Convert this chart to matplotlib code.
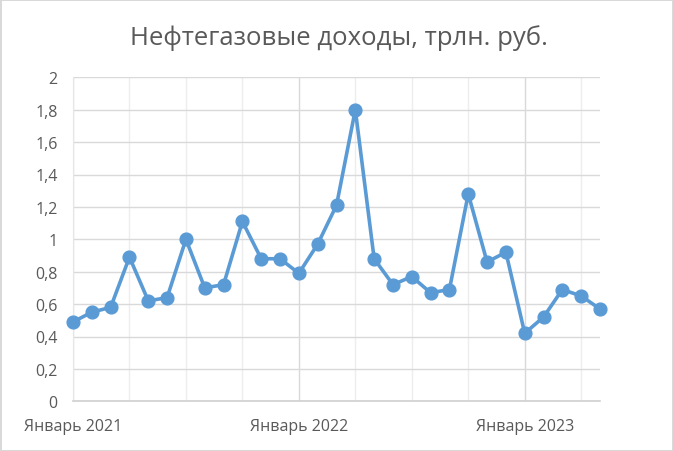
import numpy as np
import matplotlib.pyplot as plt
from matplotlib.ticker import MultipleLocator, FuncFormatter
import pandas as pd

# monthly oil & gas revenue, trillion rubles (Jan 2021 .. May 2023)
months = pd.date_range('2021-01-01', periods=29, freq='MS')
revenue = [0.49, 0.55, 0.58, 0.89, 0.62, 0.64, 1.00, 0.70, 0.72, 1.11, 0.88, 0.88,
           0.79, 0.97, 1.21, 1.80, 0.88, 0.72, 0.77, 0.67, 0.69, 1.28, 0.86, 0.92,
           0.42, 0.52, 0.69, 0.65, 0.57]
year_labels = ['Январь 2021', 'Январь 2022', 'Январь 2023']
title = 'Нефтегазовые доходы, трлн. руб.'

plt.rcParams['font.family'] = ['Open Sans', 'DejaVu Sans']
txt = '#595959'

fig = plt.figure(figsize=(6.73, 4.52), dpi=100)
fig.patch.set_edgecolor('#d9d9d9')
fig.patch.set_linewidth(2)
ax = fig.add_axes([73/673, 1 - 402.3/452, 527/673, 324/452])

x = np.arange(len(months))
ax.plot(x, revenue, color='#5b9bd5', lw=2.6, marker='o', ms=9.2,
        solid_capstyle='round', zorder=3, clip_on=False)

ax.set_xlim(0, len(months) - 1)
ax.set_ylim(0, 2)
ax.yaxis.set_major_locator(MultipleLocator(0.2))
ax.yaxis.set_major_formatter(FuncFormatter(lambda v, p: f'{v:.1f}'.rstrip('0').rstrip('.').replace('.', ',') if v else '0'))

jan_idx = [i for i, m in enumerate(months) if m.month == 1]
ax.set_xticks(jan_idx)
ax.set_xticklabels(year_labels)
ax.set_xticks([i for i in x if i % 3 == 0 and i not in jan_idx], minor=True)

ax.grid(axis='y', color='#d9d9d9', lw=1)
ax.grid(axis='x', which='major', color='#d9d9d9', lw=1)
ax.grid(axis='x', which='minor', color='#ededed', lw=1)
ax.set_axisbelow(True)

for s in ['top', 'right']:
    ax.spines[s].set_visible(False)
ax.spines['left'].set_color('#e6e6e6')
ax.spines['bottom'].set_color('#d0d0d0')
ax.spines['bottom'].set_linewidth(1.2)

ax.tick_params(axis='both', which='both', length=0, colors=txt, labelsize=11.5)
ax.tick_params(axis='y', pad=11)
ax.tick_params(axis='x', pad=12)

fig.text(0.503, 0.915, title, ha='center', va='center', color=txt, fontsize=18.5)

fig.savefig('out.png', dpi=100)
